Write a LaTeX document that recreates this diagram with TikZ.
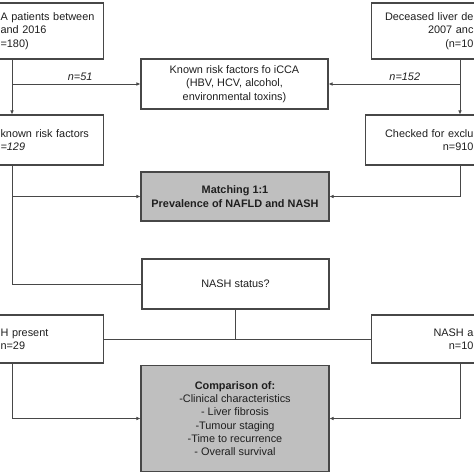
\documentclass[tikz,border=0pt]{standalone}
\usepackage{fontspec}
\setmainfont{Liberation Sans}
\usepackage{tikz}
\usetikzlibrary{positioning,arrows.meta,calc}
\colorlet{cline}{black!72}
\colorlet{ctext}{black!88}
\colorlet{cgrey}{black!25}
\tikzset{
  box/.style={draw=cline, fill=#1, line width=0.6pt, font=\fontsize{6.2}{7.55}\selectfont,
              text=ctext, align=center, inner sep=0.03cm},
  box/.default=white,
  lbox/.style={box, anchor=west, align=left, minimum width=2.09cm, text width=2.03cm},
  rbox/.style={box, anchor=east, align=right},
  flow/.style={-{Latex[length=2.3pt,width=2.1pt]}, line width=0.55pt, cline},
  link/.style={line width=0.55pt, cline},
  num/.style={font=\fontsize{6.2}{7.55}\selectfont\itshape, text=ctext, above, inner sep=1.5pt},
}
\begin{document}
\begin{tikzpicture}[x=0.02cm, y=-0.02cm]
\useasboundingbox (0,0) rectangle (474,474);
\clip (0,0) rectangle (474,474);
\node[lbox, minimum height=1.12cm] (tl) at (-1.5,31) {A patients between\\and 2016\\=180)};
\node[rbox, minimum width=2.07cm, text width=2.01cm, minimum height=1.12cm] (tr) at (475.5,31)
  {Deceased liver de\\2007 anc\\(n=10};
\node[box, minimum width=3.74cm, minimum height=1.0cm] (risk) at (234.5,84)
  {Known risk factors fo iCCA\\(HBV, HCV, alcohol,\\environmental toxins)};
\node[lbox, minimum height=1.0cm] (kn) at (-1.5,140) {known risk factors\\\textit{=129}};
\node[rbox, minimum width=2.19cm, text width=2.13cm, minimum height=1.0cm] (chk) at (475.5,140)
  {Checked for exclu\\n=910};
\node[box=cgrey, minimum width=3.76cm, minimum height=0.98cm, font=\fontsize{6.2}{7.55}\selectfont\bfseries] (match) at (235,196.5)
  {Matching 1:1\\Prevalence of NAFLD and NASH};
\node[box, minimum width=3.74cm, minimum height=1.0cm] (nstat) at (235.5,284) {NASH status?};
\node[lbox, minimum height=0.96cm] (np) at (-1.5,339) {H present\\n=29};
\node[rbox, minimum width=2.07cm, text width=2.01cm, minimum height=0.96cm] (na) at (475.5,339)
  {NASH a\\n=10};
\node[box=cgrey, minimum width=3.76cm, minimum height=2.12cm] (comp) at (235,418.5)
  {\textbf{Comparison of:}\\-Clinical characteristics\\- Liver fibrosis\\-Tumour staging\\-Time to recurrence\\- Overall survival};
\coordinate (xl) at (12,0);
\coordinate (xr) at (460,0);
\draw[flow] (tl.south -| xl) -- (kn.north -| xl);
\draw[flow] (xl |- risk.west) -- node[num, pos=0.53] {n=51} (risk.west);
\draw[flow] (tr.south -| xr) -- (chk.north -| xr);
\draw[flow] (xr |- risk.east) -- node[num, pos=0.42] {n=152} (risk.east);
\draw[flow] (xl |- match.west) -- (match.west);
\draw[flow] (chk.south -| xr) |- (match.east);
\draw[link] (kn.south -| xl) |- (nstat.west);
\draw[link] (np.east) -- (na.west);
\draw[link] (nstat.south) -- (nstat.south |- np.east);
\draw[flow] (np.south -| xl) |- (comp.west);
\draw[flow] (na.south -| xr) |- (comp.east);
\end{tikzpicture}
\end{document}
